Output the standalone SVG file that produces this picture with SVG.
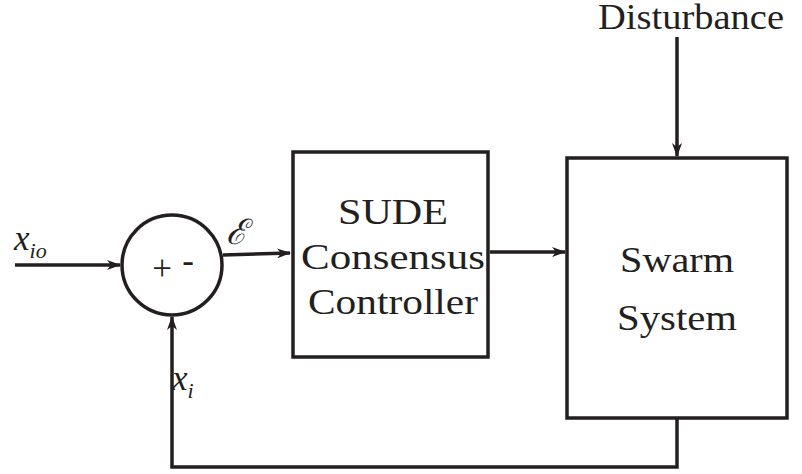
<svg xmlns="http://www.w3.org/2000/svg" width="802" height="474" viewBox="0 0 802 474">
<style>
.b{fill:#fff;stroke:#231f20;stroke-width:3.5}
.l{fill:none;stroke:#231f20;stroke-width:3.5}
text{font-family:"Liberation Serif","DejaVu Serif",serif;fill:#231f20;font-size:35px}
.c{text-anchor:middle}
.i{font-style:italic}
</style>
<defs><marker id="a" viewBox="0 0 14 10" refX="13" refY="5" markerWidth="14" markerHeight="10" markerUnits="userSpaceOnUse" orient="auto"><path d="M0,0 L14,5 L0,10 L4,5 Z" fill="#231f20"/></marker></defs>
<rect width="802" height="474" fill="#fff"/>
<g id="connectors">
<line class="l" x1="15" y1="265" x2="120" y2="265" marker-end="url(#a)"/>
<line class="l" x1="223" y1="255" x2="290" y2="253" marker-end="url(#a)"/>
<line class="l" x1="490" y1="252" x2="565" y2="252" marker-end="url(#a)"/>
<line class="l" x1="677" y1="37" x2="677" y2="156" marker-end="url(#a)"/>
<polyline class="l" points="677,418 677,467 172,467 172,317" marker-end="url(#a)"/>
</g>
<g id="sum"><circle class="b" cx="172" cy="265" r="50"/><text x="162" y="280" class="c">+</text><text x="188" y="272" class="c">-</text></g>
<g id="controller"><rect class="b" x="293" y="152" width="195" height="205"/>
<text x="393" y="224" class="c" textLength="110" lengthAdjust="spacingAndGlyphs">SUDE</text><text x="393" y="269" class="c" textLength="184" lengthAdjust="spacingAndGlyphs">Consensus</text><text x="393" y="314" class="c" textLength="170" lengthAdjust="spacingAndGlyphs">Controller</text></g>
<g id="swarm"><rect class="b" x="567" y="158" width="220" height="260"/>
<text x="677" y="272" class="c" textLength="114" lengthAdjust="spacingAndGlyphs">Swarm</text><text x="677" y="330" class="c" textLength="120" lengthAdjust="spacingAndGlyphs">System</text></g>
<g id="labels">
<text x="691" y="29" class="c" font-size="32" textLength="186" lengthAdjust="spacingAndGlyphs">Disturbance</text>
<text x="14" y="250" class="i">x<tspan font-size="22" dy="8">io</tspan></text>
<text x="226" y="244" font-family="'DejaVu Serif',serif" class="i" font-size="30">ℰ</text>
<text x="172" y="390" class="i">x<tspan font-size="22" dy="8">i</tspan></text>
</g>
</svg>
